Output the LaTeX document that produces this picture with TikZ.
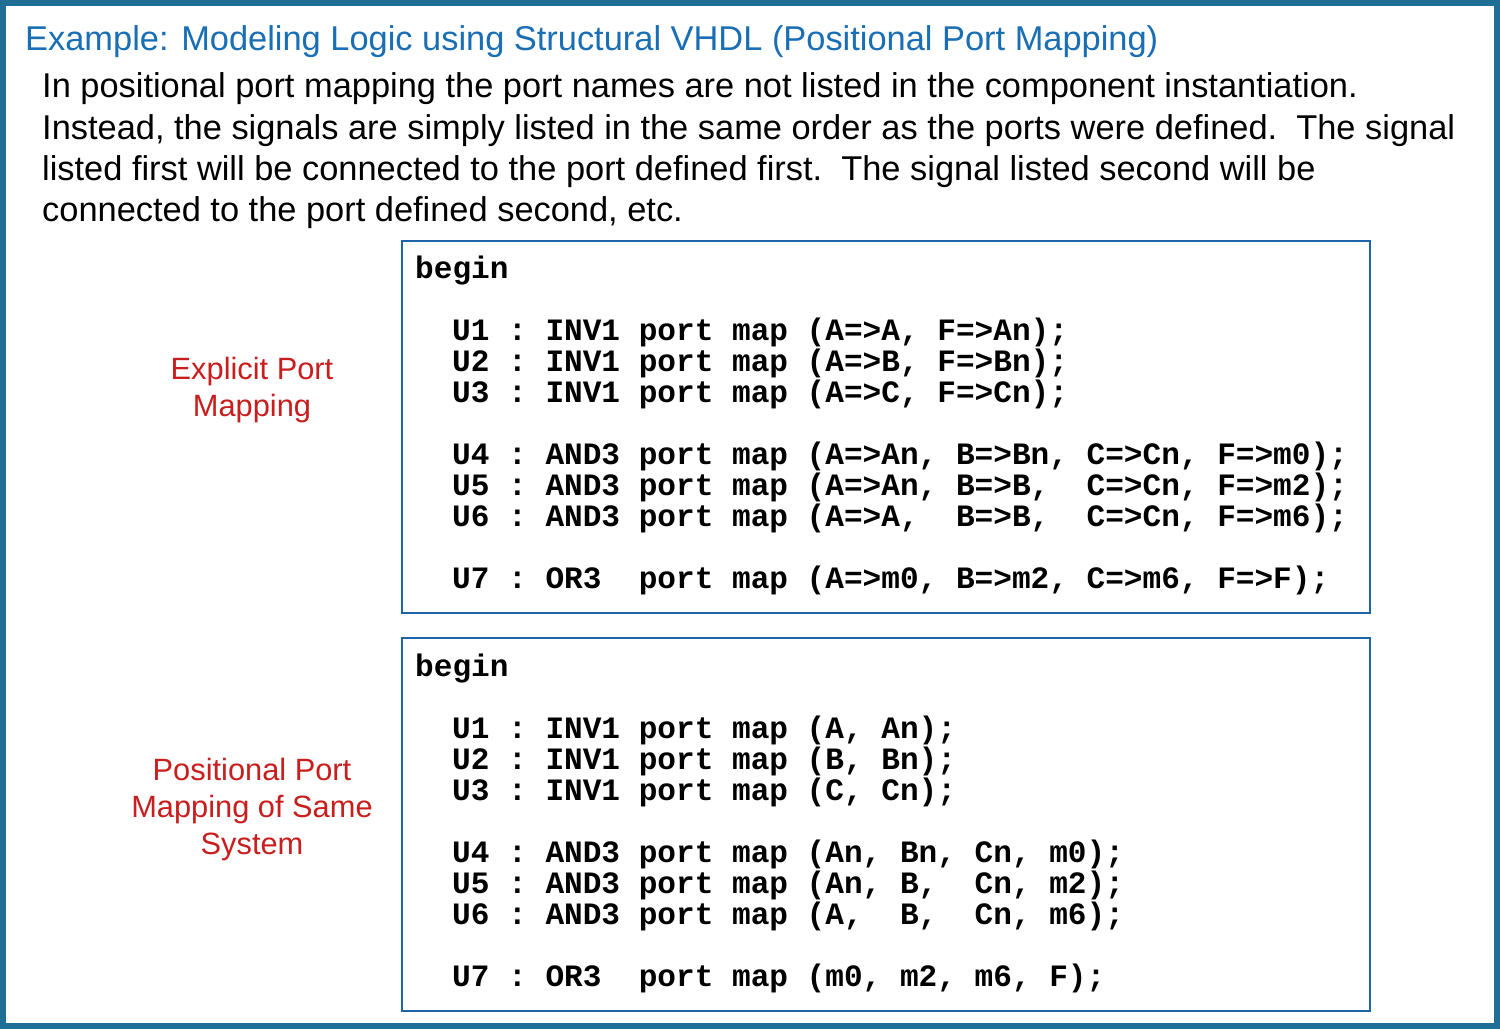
\documentclass[tikz,border=0pt]{standalone}
\usepackage{fontspec}
\setmainfont{Liberation Sans}
\setmonofont{Liberation Mono}
\definecolor{frameC}{RGB}{30,110,150}
\definecolor{titleC}{RGB}{25,110,180}
\definecolor{boxC}{RGB}{30,100,170}
\definecolor{redC}{RGB}{200,30,30}
\tikzset{
  body/.style={anchor=base west,inner sep=0pt,font=\fontsize{34.4}{41}\selectfont},
  code/.style={anchor=base west,inner sep=0pt,font=\fontsize{31.1}{31}\selectfont\ttfamily\bfseries},
  lbl/.style={anchor=center,inner sep=0pt,align=center,text=redC,font=\fontsize{30.8}{37}\selectfont},
  codebox/.style={draw=boxC,line width=2pt}
}
\begin{document}
\begin{tikzpicture}[x=1pt,y=-1pt]
\useasboundingbox (0,0) rectangle (1500,1029);
\fill[white] (0,0) rectangle (1500,1029);
\draw[frameC,line width=6pt] (3,3) rectangle (1497,1026);
\node[body,text=titleC,font=\fontsize{34.4}{38}\selectfont] (title) at (25,50) {Example: Modeling Logic using Structural VHDL (Positional Port Mapping)};
\node[body] (b1) at (42,97) {In positional port mapping the port names are not listed in the component instantiation.};
\node[body] (b2) at (42,139) {Instead, the signals are simply listed in the same order as the ports were defined.\ \ The signal};
\node[body] (b3) at (42,180) {listed first will be connected to the port defined first.\ \ The signal listed second will be};
\node[body] (b4) at (42,221) {connected to the port defined second, etc.};
\draw[codebox] (402,241) rectangle (1370,613);
\draw[codebox] (402,638) rectangle (1370,1011);
\node[lbl] (l1) at (252,390) {Explicit Port\\Mapping};
\node[lbl] (l2) at (252,810) {Positional Port\\Mapping of Same\\System};
% box 1
\node[code] (a0) at (415,278) {begin};
\node[code] (a1) at (452,340) {U1~:~INV1~port~map~(A=>A,~F=>An);};
\node[code] (a2) at (452,371) {U2~:~INV1~port~map~(A=>B,~F=>Bn);};
\node[code] (a3) at (452,402) {U3~:~INV1~port~map~(A=>C,~F=>Cn);};
\node[code] (a4) at (452,464) {U4~:~AND3~port~map~(A=>An,~B=>Bn,~C=>Cn,~F=>m0);};
\node[code] (a5) at (452,495) {U5~:~AND3~port~map~(A=>An,~B=>B,~~C=>Cn,~F=>m2);};
\node[code] (a6) at (452,526) {U6~:~AND3~port~map~(A=>A,~~B=>B,~~C=>Cn,~F=>m6);};
\node[code] (a7) at (452,588) {U7~:~OR3~~port~map~(A=>m0,~B=>m2,~C=>m6,~F=>F);};
% box 2
\node[code] (p0) at (415,676) {begin};
\node[code] (p1) at (452,738) {U1~:~INV1~port~map~(A,~An);};
\node[code] (p2) at (452,769) {U2~:~INV1~port~map~(B,~Bn);};
\node[code] (p3) at (452,800) {U3~:~INV1~port~map~(C,~Cn);};
\node[code] (p4) at (452,862) {U4~:~AND3~port~map~(An,~Bn,~Cn,~m0);};
\node[code] (p5) at (452,893) {U5~:~AND3~port~map~(An,~B,~~Cn,~m2);};
\node[code] (p6) at (452,924) {U6~:~AND3~port~map~(A,~~B,~~Cn,~m6);};
\node[code] (p7) at (452,986) {U7~:~OR3~~port~map~(m0,~m2,~m6,~F);};
\end{tikzpicture}
\end{document}
